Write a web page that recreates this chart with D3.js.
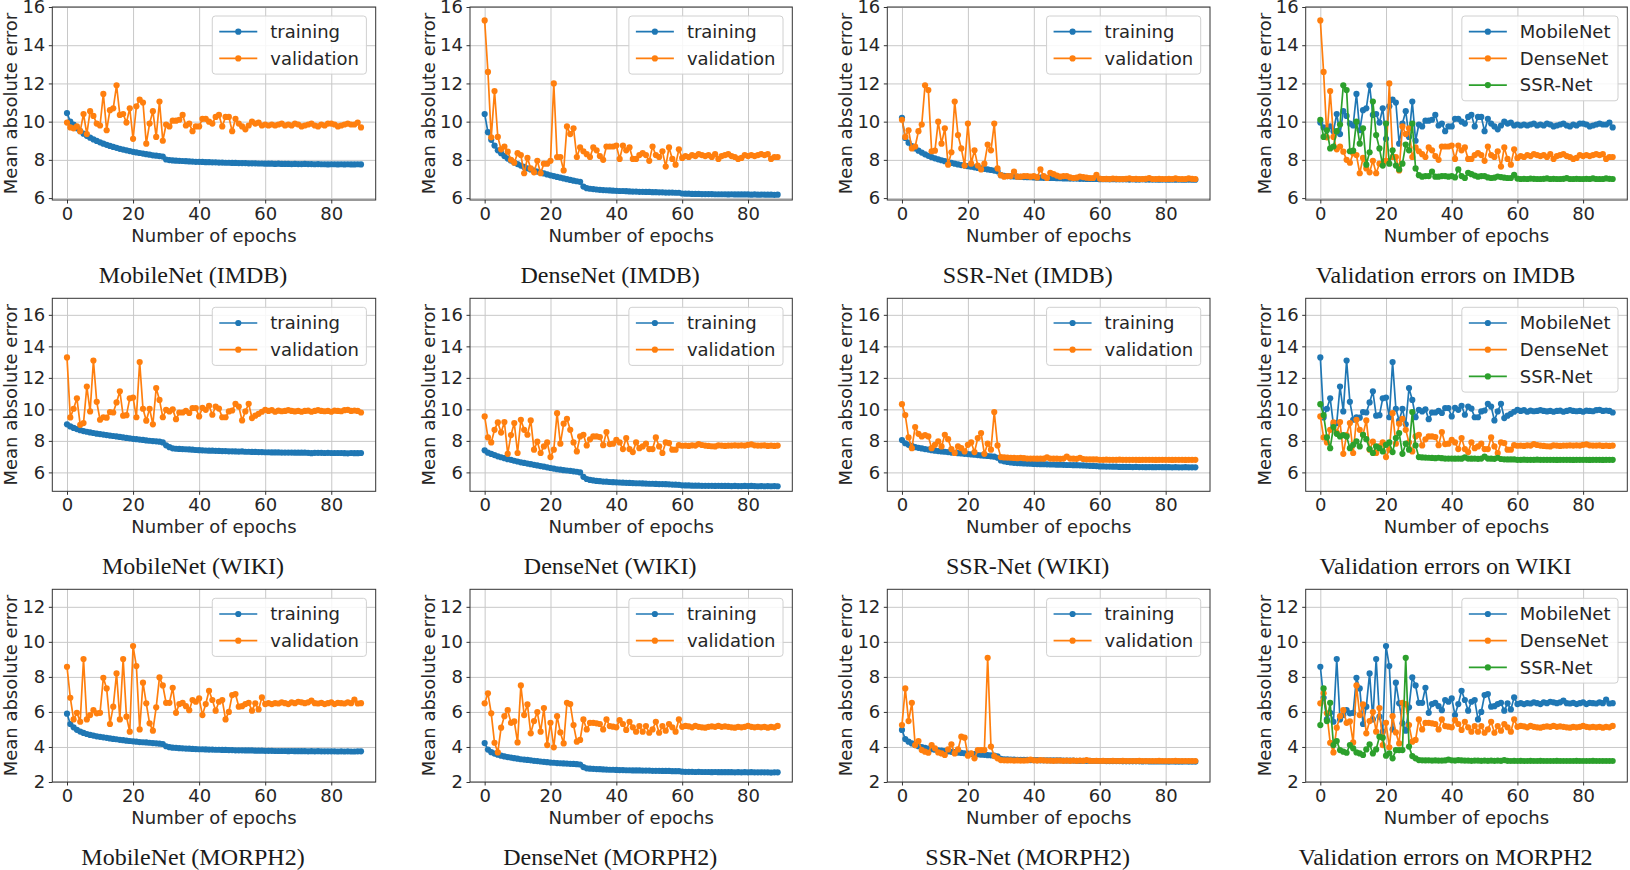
<!DOCTYPE html>
<html><head><meta charset="utf-8">
<script src="https://cdn.jsdelivr.net/npm/d3@7"></script>
<style>body{margin:0;background:#fff}</style>
</head><body>
<svg id="chart" width="1630" height="870"></svg>
<script>
// ---------------- data ----------------
const epochs = d3.range(90);
const xTicks = [0, 20, 40, 60, 80];
const yTicksIMDB = [6, 8, 10, 12, 14, 16];
const yTicksWIKI = [6, 8, 10, 12, 14, 16];
const yTicksMORPH = [2, 4, 6, 8, 10, 12];
const datasets = ["IMDB", "WIKI", "MORPH2"];
const modelNames = ["MobileNet", "DenseNet", "SSR-Net"];
const trainValLabels = ["training", "validation"];

// IMDB
const imdbMobileTrain = [10.45,10.0,9.85,9.65,9.5,9.37,9.26,9.16,9.07,8.99,8.92,8.85,8.79,8.73,8.68,8.63,8.58,8.54,8.5,8.46,8.42,8.39,8.36,8.33,8.3,8.27,8.24,8.22,8.2,8.17,8.02,7.99,7.97,7.96,7.95,7.94,7.93,7.92,7.91,7.9,7.9,7.89,7.88,7.88,7.87,7.87,7.86,7.86,7.85,7.85,7.84,7.84,7.83,7.83,7.83,7.82,7.82,7.82,7.81,7.81,7.8,7.8,7.8,7.79,7.8,7.79,7.79,7.79,7.78,7.79,7.78,7.78,7.79,7.78,7.78,7.77,7.78,7.77,7.77,7.76,7.77,7.77,7.76,7.77,7.76,7.77,7.76,7.76,7.77,7.76];
const imdbMobileVal = [9.95,9.7,9.65,9.75,9.5,10.4,9.35,10.55,10.3,9.9,9.8,11.45,9.55,10.6,10.7,11.9,10.35,10.4,9.95,10.7,9.1,10.8,11.15,11.0,8.85,9.9,10.55,9.2,11.05,9.0,9.85,9.75,10.05,10.05,10.1,10.35,9.8,9.9,9.5,9.75,9.75,10.15,10.15,10.0,9.9,10.25,10.35,9.75,10.25,10.25,9.5,10.15,9.9,9.75,9.6,9.8,10.0,9.9,9.95,9.8,9.85,9.8,9.85,9.8,9.85,9.9,9.8,9.85,9.8,9.9,9.85,9.75,9.8,9.85,9.9,9.8,9.75,9.85,9.8,9.9,9.9,9.85,9.75,9.8,9.85,9.9,9.85,9.85,9.95,9.7];
const imdbDenseTrain = [10.4,9.45,9.05,8.75,8.5,8.35,8.2,8.07,7.96,7.86,7.78,7.7,7.63,7.56,7.5,7.44,7.39,7.34,7.29,7.24,7.19,7.15,7.11,7.07,7.03,6.99,6.95,6.91,6.88,6.85,6.6,6.52,6.49,6.47,6.45,6.43,6.42,6.41,6.4,6.39,6.38,6.37,6.37,6.36,6.35,6.34,6.34,6.33,6.33,6.32,6.32,6.31,6.31,6.3,6.3,6.29,6.29,6.29,6.28,6.28,6.24,6.23,6.23,6.22,6.22,6.22,6.21,6.21,6.21,6.21,6.2,6.2,6.2,6.2,6.19,6.2,6.19,6.19,6.19,6.19,6.19,6.18,6.19,6.18,6.18,6.18,6.18,6.18,6.17,6.18];
const imdbDenseVal = [15.3,12.6,9.18,11.6,9.2,8.55,8.7,8.43,8.0,7.85,8.35,8.25,7.3,8.1,7.55,7.35,7.95,7.3,7.8,7.8,7.95,12.0,8.15,8.15,7.45,9.75,9.35,9.65,8.15,8.65,8.45,8.3,8.15,8.65,8.5,8.2,8.0,8.7,8.7,8.7,8.75,8.05,8.75,8.5,8.65,8.05,8.05,8.25,8.35,8.25,7.95,8.7,8.25,8.15,8.45,7.65,8.65,8.05,7.75,8.55,8.1,8.2,8.15,8.25,8.2,8.3,8.25,8.2,8.25,8.15,8.3,8.05,8.2,8.25,8.3,8.2,8.15,8.05,8.1,8.25,8.2,8.25,8.2,8.25,8.3,8.25,8.3,8.05,8.15,8.15];
const imdbSsrTrain = [10.2,9.15,8.9,8.72,8.6,8.48,8.38,8.29,8.21,8.14,8.08,8.03,7.98,7.93,7.88,7.84,7.8,7.76,7.73,7.7,7.67,7.64,7.61,7.58,7.56,7.53,7.5,7.47,7.44,7.4,7.2,7.17,7.15,7.14,7.13,7.12,7.11,7.1,7.09,7.09,7.08,7.07,7.07,7.06,7.06,7.05,7.05,7.04,7.04,7.03,7.03,7.02,7.02,7.02,7.01,7.01,7.0,7.0,7.0,7.0,6.99,6.99,6.99,6.98,6.99,6.98,6.98,6.98,6.98,6.97,6.98,6.97,6.97,6.98,6.97,6.97,6.97,6.97,6.96,6.97,6.97,6.96,6.97,6.96,6.97,6.96,6.96,6.97,6.96,6.96];
const imdbSsrVal = [10.1,9.2,9.55,8.6,8.7,9.5,9.85,11.9,11.65,8.45,8.48,10.0,8.85,9.65,7.75,8.4,11.05,9.3,8.6,7.7,9.9,7.8,8.5,7.7,7.5,7.8,8.8,8.5,9.9,7.55,7.2,7.12,7.15,7.15,7.38,7.12,7.12,7.15,7.15,7.12,7.15,7.08,7.5,7.15,7.05,7.32,7.25,7.18,7.12,7.15,7.15,7.08,7.05,7.07,7.13,7.1,7.07,7.05,7.05,7.22,7.02,7.0,7.01,7.0,7.02,7.01,7.0,7.0,7.01,7.03,7.0,7.01,7.0,7.0,7.01,7.04,7.0,7.0,7.01,7.0,7.0,7.01,7.0,7.03,7.0,7.0,7.0,7.03,7.01,7.0];

// WIKI
const wikiMobileTrain = [9.05,8.92,8.82,8.75,8.68,8.62,8.58,8.54,8.5,8.46,8.43,8.4,8.37,8.34,8.31,8.28,8.25,8.22,8.19,8.16,8.13,8.11,8.08,8.06,8.03,8.01,7.99,7.97,7.95,7.9,7.72,7.6,7.53,7.5,7.49,7.48,7.47,7.46,7.44,7.42,7.41,7.4,7.39,7.38,7.38,7.37,7.36,7.35,7.35,7.34,7.34,7.33,7.32,7.33,7.31,7.31,7.3,7.3,7.29,7.29,7.28,7.28,7.27,7.27,7.27,7.26,7.26,7.26,7.26,7.25,7.25,7.25,7.25,7.24,7.22,7.24,7.24,7.24,7.23,7.24,7.23,7.23,7.23,7.23,7.22,7.21,7.23,7.22,7.22,7.23];
const wikiMobileVal = [13.3,9.49,10.04,10.7,9.02,9.13,11.45,9.87,13.1,10.48,9.34,9.5,9.47,9.83,9.8,10.44,11.15,9.6,9.63,10.7,10.75,9.5,13.0,10.04,9.28,10.04,9.05,11.35,10.6,9.5,9.97,9.87,10.0,9.38,9.8,9.8,9.9,9.77,10.08,10.08,9.55,10.1,9.97,10.23,9.66,10.18,10.05,9.5,9.5,9.87,9.93,10.35,10.18,9.3,9.87,10.35,9.45,9.6,9.72,9.85,9.97,9.9,9.95,9.85,9.92,9.88,9.9,9.95,9.9,9.87,9.9,9.85,9.9,9.92,9.85,9.9,9.95,9.9,9.88,9.9,9.85,9.92,9.9,9.88,9.95,9.97,9.9,9.93,9.9,9.8];
const wikiDenseTrain = [7.4,7.25,7.17,7.1,7.02,6.96,6.9,6.84,6.79,6.74,6.69,6.64,6.6,6.56,6.52,6.48,6.44,6.4,6.36,6.32,6.28,6.24,6.2,6.17,6.14,6.12,6.1,6.07,6.04,6.0,5.72,5.58,5.52,5.49,5.46,5.44,5.42,5.41,5.39,5.38,5.37,5.36,5.35,5.34,5.33,5.32,5.31,5.31,5.3,5.29,5.28,5.28,5.27,5.26,5.26,5.25,5.24,5.23,5.22,5.21,5.18,5.17,5.17,5.16,5.16,5.16,5.15,5.15,5.15,5.15,5.14,5.15,5.14,5.14,5.14,5.13,5.14,5.13,5.13,5.14,5.13,5.14,5.13,5.12,5.13,5.12,5.13,5.12,5.13,5.12];
const wikiDenseVal = [9.55,8.22,7.9,8.7,9.17,8.53,9.2,7.18,8.37,9.13,7.23,9.34,8.7,8.39,9.3,7.44,7.95,7.23,7.65,7.9,6.97,7.44,9.76,7.82,9.09,9.4,8.7,7.9,7.33,8.28,8.39,7.71,8.1,8.28,8.28,8.24,7.73,8.56,7.8,7.82,8.07,7.9,7.48,8.18,7.48,7.29,7.9,7.54,7.65,7.82,7.48,7.48,8.22,7.65,7.23,7.9,7.86,7.44,7.44,7.73,7.69,7.7,7.68,7.72,7.7,7.8,7.74,7.7,7.68,7.66,7.65,7.72,7.7,7.68,7.7,7.7,7.72,7.7,7.72,7.7,7.75,7.78,7.72,7.7,7.7,7.72,7.68,7.7,7.68,7.7];
const wikiSsrTrain = [8.05,7.85,7.75,7.68,7.6,7.56,7.52,7.48,7.45,7.41,7.38,7.35,7.33,7.31,7.29,7.26,7.24,7.22,7.2,7.18,7.16,7.14,7.12,7.1,7.08,7.06,7.04,7.02,7.0,6.93,6.76,6.7,6.66,6.63,6.61,6.59,6.58,6.57,6.56,6.55,6.54,6.53,6.52,6.52,6.51,6.5,6.5,6.49,6.49,6.48,6.47,6.47,6.46,6.46,6.45,6.44,6.43,6.42,6.41,6.4,6.38,6.38,6.37,6.37,6.36,6.36,6.35,6.35,6.35,6.35,6.34,6.35,6.34,6.34,6.33,6.34,6.33,6.33,6.34,6.33,6.33,6.33,6.32,6.33,6.32,6.32,6.33,6.32,6.32,6.32];
const wikiSsrVal = [10.33,9.64,8.22,7.54,8.88,8.45,8.28,8.37,8.28,7.54,7.75,7.97,7.65,8.39,8.11,7.48,7.23,7.65,7.54,7.33,7.75,7.9,7.29,8.18,8.5,7.18,7.82,7.44,9.83,7.71,6.97,6.95,6.94,6.93,6.92,6.9,6.93,6.9,6.88,6.88,6.88,6.87,6.88,6.87,6.95,6.88,6.87,6.88,6.86,6.88,7.0,6.88,6.87,6.86,6.93,6.85,6.83,6.82,6.82,6.82,6.8,6.8,6.81,6.8,6.8,6.8,6.81,6.8,6.8,6.8,6.8,6.8,6.79,6.8,6.8,6.8,6.8,6.79,6.8,6.8,6.8,6.8,6.79,6.8,6.8,6.8,6.79,6.8,6.8,6.8];

// MORPH2
const morphMobileTrain = [5.9,5.31,5.12,4.98,4.88,4.8,4.74,4.69,4.65,4.61,4.58,4.55,4.52,4.49,4.46,4.44,4.41,4.39,4.36,4.34,4.32,4.3,4.28,4.27,4.26,4.24,4.22,4.21,4.19,4.17,4.04,3.99,3.96,3.95,3.93,3.92,3.91,3.9,3.89,3.88,3.87,3.87,3.86,3.85,3.85,3.84,3.84,3.83,3.83,3.82,3.82,3.81,3.81,3.81,3.8,3.8,3.8,3.79,3.79,3.79,3.78,3.78,3.78,3.77,3.77,3.77,3.77,3.76,3.77,3.76,3.76,3.76,3.76,3.75,3.76,3.75,3.76,3.75,3.75,3.75,3.75,3.75,3.74,3.75,3.74,3.75,3.74,3.74,3.75,3.75];
const morphMobileVal = [8.58,6.81,5.57,5.95,5.44,9.02,5.57,5.82,6.1,5.92,5.95,7.95,7.34,5.31,6.3,8.2,5.57,9.02,5.73,4.87,9.76,8.62,5.0,7.67,6.49,5.35,4.93,6.26,7.97,7.51,6.52,6.52,7.38,5.95,6.45,6.52,6.33,6.1,6.68,6.58,6.77,5.82,6.45,7.21,6.68,6.07,6.58,6.68,5.57,6.0,6.96,7.02,6.3,6.33,6.45,6.52,6.07,6.49,6.14,6.83,6.45,6.5,6.45,6.5,6.48,6.55,6.5,6.45,6.55,6.5,6.58,6.55,6.5,6.55,6.65,6.5,6.48,6.52,6.45,6.5,6.55,6.45,6.52,6.5,6.48,6.55,6.5,6.7,6.48,6.5];
const morphDenseTrain = [4.22,3.85,3.7,3.62,3.56,3.5,3.46,3.42,3.39,3.36,3.33,3.3,3.28,3.26,3.24,3.21,3.19,3.17,3.15,3.13,3.11,3.1,3.08,3.07,3.06,3.05,3.04,3.03,3.02,3.0,2.85,2.78,2.76,2.75,2.74,2.73,2.72,2.71,2.7,2.7,2.69,2.68,2.68,2.67,2.67,2.66,2.66,2.66,2.65,2.65,2.65,2.64,2.64,2.64,2.63,2.63,2.63,2.62,2.62,2.62,2.59,2.58,2.58,2.58,2.57,2.58,2.57,2.57,2.57,2.56,2.57,2.56,2.56,2.56,2.56,2.56,2.55,2.56,2.55,2.56,2.55,2.56,2.55,2.55,2.55,2.55,2.55,2.54,2.55,2.55];
const morphDenseVal = [6.49,7.06,5.92,4.24,3.69,5.1,5.76,6.1,5.38,5.46,4.26,7.51,5.82,6.43,4.78,5.48,5.99,4.87,6.22,4.11,5.38,3.98,5.76,4.83,4.2,6.52,6.45,5.25,4.3,4.4,5.57,5.0,5.38,5.38,5.35,5.31,5.0,5.57,5.19,5.16,5.12,5.53,5.31,4.97,5.44,5.12,4.87,5.19,4.87,5.19,4.81,5.0,5.44,4.81,5.19,4.93,5.31,5.12,4.87,5.57,5.15,5.2,5.18,5.12,5.2,5.15,5.12,5.1,5.15,5.18,5.15,5.2,5.15,5.18,5.15,5.12,5.1,5.15,5.12,5.15,5.2,5.15,5.12,5.15,5.12,5.15,5.1,5.15,5.12,5.2];
const morphSsrTrain = [4.97,4.45,4.3,4.2,4.11,4.04,3.99,3.95,3.91,3.87,3.84,3.81,3.79,3.77,3.75,3.72,3.7,3.68,3.66,3.64,3.62,3.61,3.59,3.58,3.56,3.55,3.53,3.52,3.5,3.46,3.32,3.3,3.29,3.28,3.28,3.27,3.27,3.26,3.26,3.25,3.25,3.25,3.24,3.24,3.24,3.23,3.23,3.23,3.23,3.22,3.22,3.22,3.22,3.21,3.21,3.21,3.21,3.21,3.2,3.2,3.2,3.2,3.19,3.19,3.19,3.19,3.19,3.18,3.18,3.18,3.18,3.18,3.18,3.17,3.18,3.17,3.17,3.17,3.17,3.17,3.17,3.16,3.17,3.16,3.16,3.16,3.17,3.16,3.16,3.16];
const morphSsrVal = [5.25,7.34,5.48,6.52,4.11,4.34,3.82,3.73,3.67,4.11,3.92,3.69,3.63,3.54,3.86,4.15,3.63,3.86,4.59,4.53,3.5,3.63,3.35,3.82,3.82,3.82,9.09,4.02,3.48,3.35,3.25,3.24,3.23,3.24,3.22,3.23,3.22,3.22,3.23,3.28,3.24,3.22,3.25,3.23,3.22,3.22,3.21,3.22,3.22,3.21,3.22,3.21,3.22,3.21,3.22,3.21,3.25,3.21,3.2,3.21,3.2,3.21,3.2,3.2,3.21,3.2,3.2,3.21,3.2,3.2,3.2,3.2,3.21,3.2,3.2,3.2,3.2,3.2,3.21,3.2,3.2,3.2,3.2,3.21,3.2,3.2,3.2,3.2,3.2,3.2];

// ---------------- layout ----------------
const trainSets = [
  [imdbMobileTrain, imdbDenseTrain, imdbSsrTrain],
  [wikiMobileTrain, wikiDenseTrain, wikiSsrTrain],
  [morphMobileTrain, morphDenseTrain, morphSsrTrain]
];
const valSets = [
  [imdbMobileVal, imdbDenseVal, imdbSsrVal],
  [wikiMobileVal, wikiDenseVal, wikiSsrVal],
  [morphMobileVal, morphDenseVal, morphSsrVal]
];
const yTickSets = [yTicksIMDB, yTicksWIKI, yTicksMORPH];
const yDomains = [[5.9, 16], [4.8, 17.05], [2, 13]];
const colX = [[52.3, 375.7], [470, 792.3], [887.3, 1210], [1305.7, 1627.3]];
const rowY = [[7, 200], [298.3, 491.3], [589.3, 782]];
const C = {blue: "#1f77b4", orange: "#ff7f0e", green: "#2ca02c"};
const SANS = "'DejaVu Sans', Verdana, sans-serif";
const SERIF = "'Liberation Serif', 'Times New Roman', serif";
const TXT = "#262626";

const svg = d3.select("#chart");
svg.append("rect").attr("width", 1630).attr("height", 870).attr("fill", "#fff");

for (let r = 0; r < 3; r++) {
  for (let c = 0; c < 4; c++) {
    const [x0, x1] = colX[c];
    const [y0, y1] = rowY[r];
    const x = d3.scaleLinear().domain([-4.45, 93.45]).range([x0, x1]);
    const y = d3.scaleLinear().domain(yDomains[r]).range([y1, y0]);
    const g = svg.append("g");

    let series;
    if (c < 3) {
      series = [
        {name: trainValLabels[0], values: trainSets[r][c], color: C.blue},
        {name: trainValLabels[1], values: valSets[r][c], color: C.orange}
      ];
    } else {
      series = [
        {name: modelNames[0], values: valSets[r][0], color: C.blue},
        {name: modelNames[1], values: valSets[r][1], color: C.orange},
        {name: modelNames[2], values: valSets[r][2], color: C.green}
      ];
    }

    // grid
    g.append("g").attr("transform", `translate(0,${y1})`)
      .call(d3.axisBottom(x).tickValues(xTicks).tickSize(-(y1 - y0)).tickFormat(""))
      .call(s => s.select(".domain").remove())
      .call(s => s.selectAll("line").attr("stroke", "#c8c8c8").attr("stroke-width", 1));
    g.append("g").attr("transform", `translate(${x0},0)`)
      .call(d3.axisLeft(y).tickValues(yTickSets[r]).tickSize(-(x1 - x0)).tickFormat(""))
      .call(s => s.select(".domain").remove())
      .call(s => s.selectAll("line").attr("stroke", "#c8c8c8").attr("stroke-width", 1));

    // axes ticks & labels
    const ax = g.append("g").attr("transform", `translate(0,${y1})`)
      .call(d3.axisBottom(x).tickValues(xTicks).tickSize(3.5).tickPadding(3.5).tickFormat(d3.format("d")));
    const ay = g.append("g").attr("transform", `translate(${x0},0)`)
      .call(d3.axisLeft(y).tickValues(yTickSets[r]).tickSize(3.5).tickPadding(3.5).tickFormat(d3.format("d")));
    [ax, ay].forEach(a => {
      a.select(".domain").remove();
      a.selectAll("line").attr("stroke", "#333");
      a.selectAll("text").attr("font-family", SANS).attr("font-size", 18).attr("fill", TXT);
    });

    // lines and markers
    const line = d3.line().x((d, i) => x(epochs[i])).y(d => y(d));
    series.forEach(s => {
      g.append("path").datum(s.values).attr("d", line)
        .attr("fill", "none").attr("stroke", s.color).attr("stroke-width", 1.7)
        .attr("stroke-linejoin", "round");
      g.append("g").selectAll("circle").data(s.values).join("circle")
        .attr("cx", (d, i) => x(epochs[i])).attr("cy", d => y(d)).attr("r", 3.1)
        .attr("fill", s.color);
    });

    // frame
    g.append("rect").attr("x", x0).attr("y", y0).attr("width", x1 - x0).attr("height", y1 - y0)
      .attr("fill", "none").attr("stroke", "#333").attr("stroke-width", 1);

    // legend
    const lg = g.append("g");
    const box = lg.append("rect").attr("rx", 3).attr("ry", 3)
      .attr("fill", "#fff").attr("fill-opacity", 0.85).attr("stroke", "#d0d0d0").attr("stroke-width", 1);
    let maxW = 0;
    series.forEach((s, i) => {
      const cy = 15.7 + i * 26.7;
      lg.append("line").attr("x1", 7).attr("x2", 45).attr("y1", cy).attr("y2", cy)
        .attr("stroke", s.color).attr("stroke-width", 1.7);
      lg.append("circle").attr("cx", 26).attr("cy", cy).attr("r", 3.1).attr("fill", s.color);
      const t = lg.append("text").attr("x", 58).attr("y", cy).attr("dy", "0.35em")
        .attr("font-family", SANS).attr("font-size", 18).attr("fill", TXT).text(s.name);
      maxW = Math.max(maxW, t.node().getComputedTextLength());
    });
    const lw = 58 + maxW + 7.5;
    const lh = series.length * 26.7 + 4.7;
    box.attr("width", lw).attr("height", lh);
    lg.attr("transform", `translate(${x1 - 9.3 - lw},${y0 + 9})`);

    // axis labels
    g.append("text").attr("x", (x0 + x1) / 2).attr("y", y1 + 41.5).attr("text-anchor", "middle")
      .attr("font-family", SANS).attr("font-size", 18).attr("fill", TXT).text("Number of epochs");
    g.append("text").attr("transform", `translate(${x0 - 35},${(y0 + y1) / 2}) rotate(-90)`)
      .attr("text-anchor", "middle").attr("font-family", SANS).attr("font-size", 18).attr("fill", TXT)
      .text("Mean absolute error");

    // title
    const title = c < 3 ? `${modelNames[c]} (${datasets[r]})` : `Validation errors on ${datasets[r]}`;
    g.append("text").attr("x", (x0 + x1) / 2 - 21).attr("y", y0 + 276).attr("text-anchor", "middle")
      .attr("font-family", SERIF).attr("font-size", 24).attr("fill", "#1a1a1a").text(title);
  }
}
</script>
</body></html>
